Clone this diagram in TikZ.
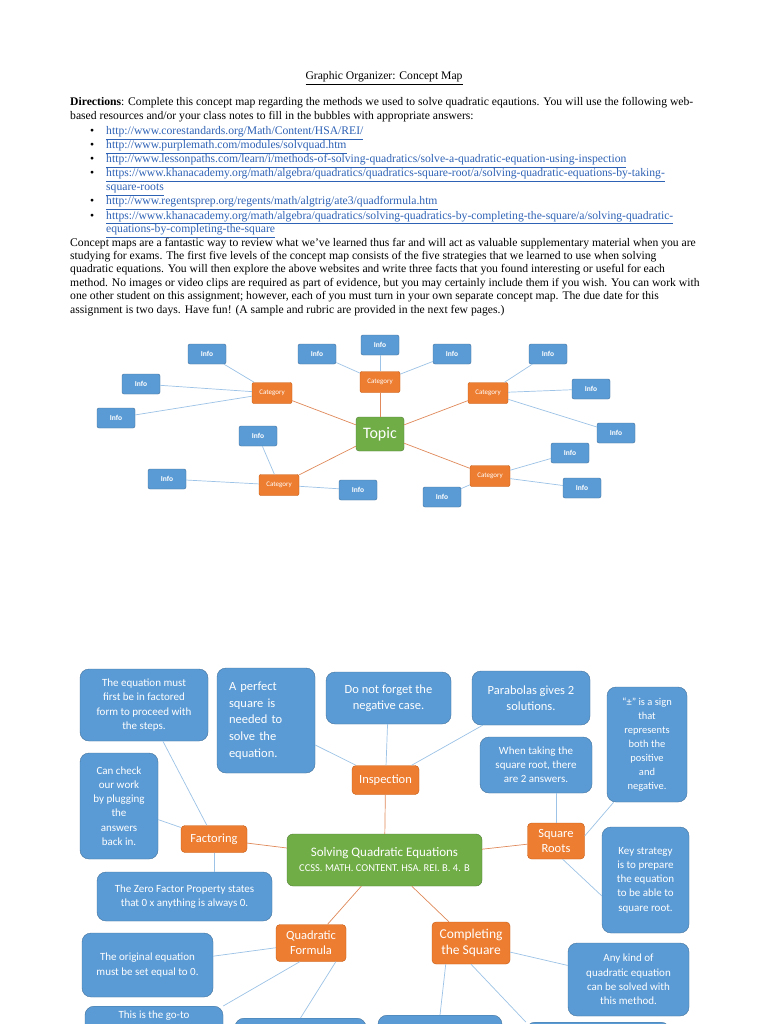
\documentclass[tikz,border=0pt]{standalone}
\usepackage{fontspec}
\setmainfont{Liberation Serif}
\newfontfamily\calibri{Carlito}

\definecolor{linkblue}{HTML}{2E62B5}
\definecolor{infoblue}{HTML}{5B9BD5}
\definecolor{infoedge}{HTML}{41719C}
\definecolor{catorange}{HTML}{ED7D31}
\definecolor{catedge}{HTML}{C55A11}
\definecolor{topicgreen}{HTML}{70AD47}
\definecolor{topicedge}{HTML}{507E32}
\definecolor{lightlink}{HTML}{9DC3E6}
\definecolor{orangelink}{HTML}{E0895A}

\tikzset{
  bodyline/.style={anchor=base west, inner sep=0pt, font=\fontsize{11.65}{13}\selectfont},
  weblink/.style={bodyline, text=linkblue},
  infobox/.style={draw=infoedge, fill=infoblue, text=white, rounded corners=2pt,
    minimum width=38pt, minimum height=20pt, inner sep=0pt,
    font=\calibri\bfseries\fontsize{7.5}{9}\selectfont},
  catbox/.style={draw=catedge, fill=catorange, text=white, rounded corners=2pt,
    minimum width=40pt, minimum height=21pt, inner sep=0pt,
    font=\calibri\fontsize{7}{8}\selectfont},
  topicbox/.style={draw=topicedge, fill=topicgreen, text=white, rounded corners=3pt,
    minimum width=48pt, minimum height=34pt, inner sep=0pt,
    font=\calibri\fontsize{16}{18}\selectfont},
  notebox/.style={draw=infoedge, fill=infoblue, text=white, rounded corners=9pt,
    align=center, inner sep=0pt, font=\calibri\fontsize{11}{14.2}\selectfont},
  methodbox/.style={draw=catedge, fill=catorange, text=white, rounded corners=4pt,
    align=center, inner sep=0pt, font=\calibri\fontsize{12.5}{15}\selectfont},
  goalbox/.style={draw=topicedge, fill=topicgreen, text=white, rounded corners=6pt,
    align=center, inner sep=0pt},
  infolink/.style={draw=lightlink, line width=0.7pt},
  catlink/.style={draw=orangelink, line width=0.7pt},
}

\begin{document}
\begin{tikzpicture}[x=1pt,y=-1pt]
\clip (0,0) rectangle (768,1024);
\fill[white] (0,0) rectangle (768,1024);

% Header and directions
\node[bodyline, anchor=base] (title) at (384,80) {\underline{Graphic Organizer: Concept Map}};
\node[bodyline] (dir1) at (70,106) {\textbf{Directions}: Complete this concept map regarding the methods we used to solve quadratic eqautions. You will use the following web-};
\node[bodyline] (dir2) at (70,120) {based resources and/or your class notes to fill in the bubbles with appropriate answers:};

% Bullets and web links
\foreach \y in {135,149,163,177,205,219}
  \node[bodyline] (bul\y) at (90,\y) {\textbullet};
\node[weblink] (link1) at (106,135) {\underline{http://www.corestandards.org/Math/Content/HSA/REI/}};
\node[weblink] (link2) at (106,149) {\underline{http://www.purplemath.com/modules/solvquad.htm}};
\node[weblink] (link3) at (106,163) {\underline{http://www.lessonpaths.com/learn/i/methods-of-solving-quadratics/solve-a-quadratic-equation-using-inspection}};
\node[weblink] (link4) at (106,177) {\underline{https://www.khanacademy.org/math/algebra/quadratics/quadratics-square-root/a/solving-quadratic-equations-by-taking-}};
\node[weblink] (link4b) at (106,191) {\underline{square-roots}};
\node[weblink] (link5) at (106,205) {\underline{http://www.regentsprep.org/regents/math/algtrig/ate3/quadformula.htm}};
\node[weblink] (link6) at (106,219) {\underline{https://www.khanacademy.org/math/algebra/quadratics/solving-quadratics-by-completing-the-square/a/solving-quadratic-}};
\node[weblink] (link6b) at (106,233) {\underline{equations-by-completing-the-square}};

% Paragraph
\foreach \txt [count=\i] in {
  {Concept maps are a fantastic way to review what we've learned thus far and will act as valuable supplementary material when you are},
  {studying for exams. The first five levels of the concept map consists of the five strategies that we learned to use when solving},
  {quadratic equations. You will then explore the above websites and write three facts that you found interesting or useful for each},
  {method. No images or video clips are required as part of evidence, but you may certainly include them if you wish. You can work with},
  {one other student on this assignment; however, each of you must turn in your own separate concept map. The due date for this},
  {assignment is two days. Have fun! (A sample and rubric are provided in the next few pages.)}}
  \node[bodyline] (para\i) at (70,232.6+13.4*\i) {\txt};

% Blank concept map
\node[topicbox] (topic) at (380,434) {Topic};
\node[catbox] (catA) at (272,393) {Category};
\node[catbox] (catB) at (380,382) {Category};
\node[catbox] (catC) at (488,393) {Category};
\node[catbox] (catD) at (279,485) {Category};
\node[catbox] (catE) at (490,476) {Category};
\node[infobox] (infoA1) at (207,354) {Info};
\node[infobox] (infoA2) at (141,384) {Info};
\node[infobox] (infoA3) at (116,418) {Info};
\node[infobox] (infoB1) at (317,354) {Info};
\node[infobox] (infoB2) at (380,345) {Info};
\node[infobox] (infoB3) at (452,354) {Info};
\node[infobox] (infoC1) at (548,354) {Info};
\node[infobox] (infoC2) at (591,389) {Info};
\node[infobox] (infoC3) at (616,433) {Info};
\node[infobox] (infoD1) at (258,436) {Info};
\node[infobox] (infoD2) at (167,479) {Info};
\node[infobox] (infoD3) at (358,490) {Info};
\node[infobox] (infoE1) at (570,453) {Info};
\node[infobox] (infoE2) at (582,488) {Info};
\node[infobox] (infoE3) at (442,497) {Info};
\foreach \c in {catA,catB,catC,catD,catE}
  \draw[catlink] (topic) -- (\c);
\foreach \c in {A,B,C,D,E}
  \foreach \n in {1,2,3}
    \draw[infolink] (cat\c) -- (info\c\n);

% Sample concept map: centre and methods
\node[goalbox, minimum width=195pt, minimum height=52pt] (goal) at (384.5,860)
  {{\calibri\fontsize{13}{18}\selectfont Solving Quadratic Equations}\\[3pt]
   {\calibri\fontsize{10.5}{13}\selectfont CCSS. MATH. CONTENT. HSA. REI. B. 4. B}};
\node[methodbox, minimum width=67pt, minimum height=29pt] (inspection) at (385.5,780) {Inspection};
\node[methodbox, minimum width=57pt, minimum height=36pt] (sqroots) at (556,841) {Square\\Roots};
\node[methodbox, minimum width=66pt, minimum height=27pt] (factoring) at (214,839) {Factoring};
\node[methodbox, minimum width=70pt, minimum height=37pt] (quadform) at (311,943) {Quadratic\\Formula};
\node[methodbox, minimum width=78pt, minimum height=42pt, font=\calibri\fontsize{13.5}{16}\selectfont] (completing) at (471,943) {Completing\\the Square};

% Sample concept map: facts
\node[notebox, minimum width=128pt, minimum height=72pt] (factoredform) at (144,705) {The equation must\\first be in factored\\form to proceed with\\the steps.};
\node[notebox, minimum width=98pt, minimum height=105pt, align=left, text width=74pt, inner xsep=12pt, font=\calibri\fontsize{12.5}{16.7}\selectfont] (perfectsq) at (266,720.5) {A perfect\\square is\\needed to\\solve the\\equation.};
\node[notebox, minimum width=78pt, minimum height=106pt] (cancheck) at (119,806) {Can check\\our work\\by plugging\\the\\answers\\back in.};
\node[notebox, minimum width=175pt, minimum height=49pt] (zerofactor) at (184.5,896.5) {The Zero Factor Property states\\that 0 x anything is always 0.};
\node[notebox, minimum width=125pt, minimum height=52pt, font=\calibri\fontsize{12.5}{16}\selectfont] (forgetneg) at (388.5,698) {Do not forget the\\negative case.};
\node[notebox, minimum width=118pt, minimum height=54pt, font=\calibri\fontsize{12.5}{16}\selectfont] (parabolas) at (531,698) {Parabolas gives 2\\solutions.};
\node[notebox, minimum width=112pt, minimum height=56pt] (twoanswers) at (536,765) {When taking the\\square root, there\\are 2 answers.};
\node[notebox, minimum width=80pt, minimum height=115pt, font=\calibri\fontsize{10.5}{14}\selectfont] (plusminus) at (647,744.5) {“±” is a sign\\that\\represents\\both the\\positive\\and\\negative.};
\node[notebox, minimum width=87pt, minimum height=106pt] (keystrat) at (645.5,880) {Key strategy\\is to prepare\\the equation\\to be able to\\square root.};
\node[notebox, minimum width=121pt, minimum height=73pt] (anykind) at (628.5,979.5) {Any kind of\\quadratic equation\\can be solved with\\this method.};
\node[notebox, minimum width=131pt, minimum height=64pt] (equalzero) at (147.5,965) {The original equation\\must be set equal to 0.};
\node[notebox, anchor=north, minimum width=138pt, inner ysep=5pt, text depth=44pt] (goto) at (154,1006) {This is the go-to};
\node[notebox, anchor=north, minimum width=131pt, minimum height=60pt] (qfnote) at (300.5,1018) {};
\node[notebox, anchor=north, minimum width=124pt, minimum height=60pt] (ctsnote) at (440,1015) {};
\node[notebox, anchor=north, minimum width=144pt, minimum height=60pt] (ctsnote2) at (598,1022) {};

% Sample concept map: connectors
\foreach \m in {inspection,factoring,sqroots,quadform,completing}
  \draw[catlink] (goal) -- (\m);
\foreach \a/\b in {factoring/factoredform, factoring/cancheck, inspection/perfectsq,
                   inspection/forgetneg, inspection/parabolas, quadform/equalzero,
                   completing/anykind}
  \draw[infolink] (\a) -- (\b);
\draw[infolink] (factoring) -- (factoring |- zerofactor.north);
\draw[infolink] (sqroots) -- (sqroots |- twoanswers.south);
\draw[infolink] (sqroots.10) -- (plusminus.-120);
\draw[infolink] (sqroots.-70) -- (keystrat.200);
\draw[infolink] (quadform.-121) -- (goto.north east);
\draw[infolink] (quadform.-37) -- (qfnote.north);
\draw[infolink] (completing.-140) -- (ctsnote.north);
\draw[infolink] (completing.south) -- (ctsnote2.north west);
\end{tikzpicture}
\end{document}
